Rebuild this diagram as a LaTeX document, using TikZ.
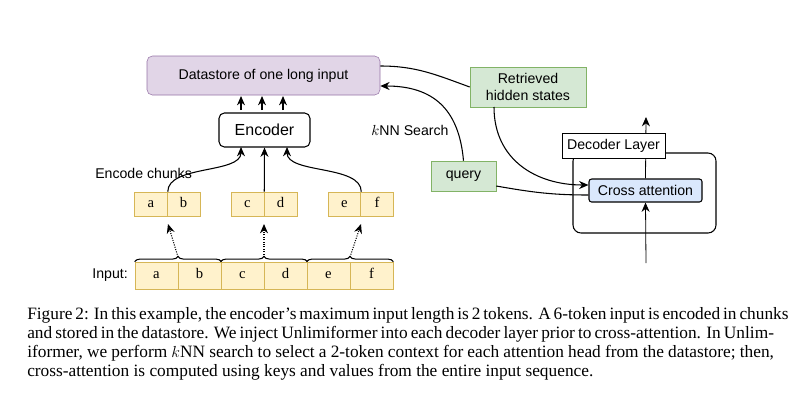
\documentclass[tikz,border=0pt]{standalone}
\usepackage{fontspec}
\setmainfont{Liberation Serif}
\newfontfamily\sansf{Liberation Sans}
\usetikzlibrary{arrows.meta,decorations.pathreplacing}
\begin{document}
\begin{tikzpicture}[x=0.75pt,y=-0.75pt,
  every node/.style={font=\sansf\fontsize{10.6}{12.5}\selectfont, inner sep=0pt},
  tok/.style={draw={rgb,255:red,214;green,182;blue,86}, fill={rgb,255:red,255;green,242;blue,204}, minimum width=24.75pt, minimum height=18pt, text height=7pt, text depth=2pt, font=\rmfamily\fontsize{11}{12}\selectfont},
  itok/.style={tok, minimum width=32.25pt, minimum height=20.25pt},
  grn/.style={draw={rgb,255:red,130;green,179;blue,102}, fill={rgb,255:red,213;green,232;blue,212}, align=center},
  arr/.style={-{Stealth[length=7pt,width=6pt]}, thick},
  ln/.style={thick}]
\useasboundingbox (0,0) rectangle (800,415);
\node[draw={rgb,255:red,150;green,115;blue,166}, fill={rgb,255:red,225;green,213;blue,231}, rounded corners=4pt, minimum width=174.75pt, minimum height=29.25pt] (ds) at (263.5,75.5) {Datastore of one long input};
\node[draw, thick, rounded corners=4pt, minimum width=68.25pt, minimum height=25.5pt] (enc) at (264.5,130) {\fontsize{12}{14}\selectfont Encoder};
\foreach \x in {241,262,283} \draw[arr] (\x,110) -- (\x,96);
\node[anchor=west] (ec) at (95,173) {Encode chunks};
\node[tok] (ca) at (151,204) {a};
\node[tok] (cb) at (183.5,204) {b};
\node[tok] (cc) at (247.5,204) {c};
\node[tok] (cd) at (280.5,204) {d};
\node[tok] (ce) at (344.5,204) {e};
\node[tok] (cf) at (377,204) {f};
\node[anchor=east] (inl) at (128,275.5) {Input:};
\node[itok] (ia) at (156.5,275.5) {a};
\node[itok] (ib) at (199.5,275.5) {b};
\node[itok] (ic) at (242.5,275.5) {c};
\node[itok] (id) at (285.5,275.5) {d};
\node[itok] (ie) at (328.5,275.5) {e};
\node[itok] (iff) at (371.5,275.5) {f};
\draw[arr] (ca.north east) to[out=90,in=-90,looseness=0.8] (241,147);
\draw[arr] (cc.north east) -- (enc.south);
\draw[arr] (ce.north east) to[out=90,in=-90,looseness=0.8] (287,147);
\foreach \a/\b in {ia/ib,ic/id,ie/iff}
  \draw[thick,decorate,decoration={brace,amplitude=4pt}] (\a.north west) -- (\b.north east);
\coordinate (t1) at (178,257); \coordinate (t2) at (264,257); \coordinate (t3) at (350,257);
\draw[arr,densely dotted] (t1) -- (168,224);
\draw[arr,densely dotted] (t2) -- (264,224);
\draw[arr,densely dotted] (t3) -- (361,224);
\node[grn, minimum width=87pt, minimum height=30pt] (ret) at (528,87) {Retrieved\\hidden states};
\node[grn, minimum width=48.75pt, minimum height=22.5pt] (q) at (463.5,176) {query};
\node[draw, thick, rounded corners=6pt, minimum width=107.25pt, minimum height=60pt] (dec) at (644.5,193) {};
\coordinate (bot) at (646,263); \coordinate (top) at (646,117);
\node[draw, thick, fill={rgb,255:red,218;green,232;blue,252}, rounded corners=2pt, minimum width=84.75pt, minimum height=17.25pt] (xa) at (645.5,190.5) {Cross attention};
\draw[arr,semithick] (bot) -- (xa.south);
\draw[arr,semithick] (xa.north) -- (top);
\node[draw, semithick, fill=white, minimum width=77.25pt, minimum height=18.75pt] (dl) at (613.5,145.5) {Decoder Layer};
\draw[ln] (ds.east |- 0,66) to[out=0,in=160] (ret.west);
\draw[arr] (494,107) to[out=-90,in=180,looseness=1.1] (xa.west |- 0,185);
\draw[arr] (q.north) to[out=95,in=0,looseness=1.2] (ds.east |- 0,86);
\node (knn) at (410,130) {$k$NN Search};
\draw[ln] (q.east |- 0,186) to[out=-10,in=180] (xa.west |- 0,195);
\begin{scope}[every node/.style={anchor=west, inner sep=0pt, font=\rmfamily\fontsize{13}{15}\selectfont}]
\node (c1) at (27,315) {\makebox[560pt][s]{Figure 2: In this example, the encoder's maximum input length is 2 tokens. A 6-token input is encoded in chunks}};
\node (c2) at (27,334) {\makebox[560pt][s]{and stored in the datastore. We inject Unlimiformer into each decoder layer prior to cross-attention. In Unlim-}};
\node (c3) at (27,353) {\makebox[560pt][s]{iformer, we perform $k$NN search to select a 2-token context for each attention head from the datastore; then,}};
\node (c4) at (27,372) {cross-attention is computed using keys and values from the entire input sequence.};
\end{scope}
\end{tikzpicture}
\end{document}
